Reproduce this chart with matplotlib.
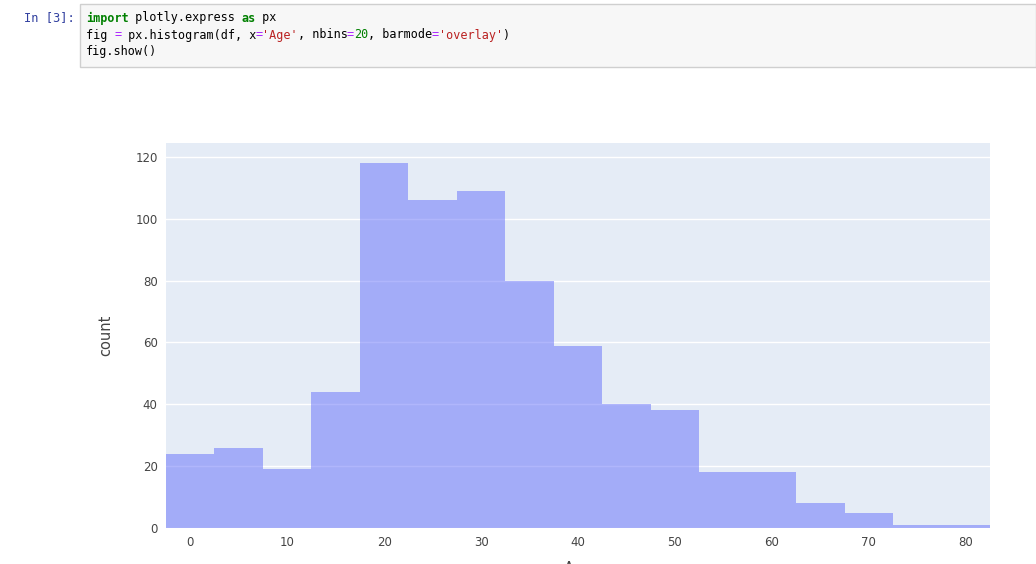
import matplotlib
matplotlib.use("Agg")
import matplotlib.pyplot as plt
from matplotlib.patches import Rectangle

bin_centers = [0, 5, 10, 15, 20, 25, 30, 35, 40, 45, 50, 55, 60, 65, 70, 75, 80]
counts = [24, 26, 19, 44, 118, 106, 109, 80, 59, 40, 38, 18, 18, 8, 5, 1, 1]
x_ticks = [0, 10, 20, 30, 40, 50, 60, 70, 80]
y_ticks = [0, 20, 40, 60, 80, 100, 120]

W, H = 1036, 564
fig = plt.figure(figsize=(W/100, H/100), dpi=100)
fig.patch.set_facecolor("white")

# code cell
fig.patches.append(Rectangle((80/W, 1-67/H), (W-80)/W, 63/H, transform=fig.transFigure,
                             facecolor="#f7f7f7", edgecolor="#cfcfcf", lw=1))
fig.text(75/W, 1-18/H, "In [3]:", color="#303f9f", family="DejaVu Sans Mono",
         fontsize=8.64, ha="right", va="center")
lines = [
    [("import", "#008000", "bold"), (" plotly.express ", "#000000", "normal"), ("as", "#008000", "bold"), (" px", "#000000", "normal")],
    [("fig ", "#000", "normal"), ("=", "#aa22ff", "normal"), (" px.histogram(df, x", "#000", "normal"), ("=", "#aa22ff", "normal"),
     ("'Age'", "#ba2121", "normal"), (", nbins", "#000", "normal"), ("=", "#aa22ff", "normal"), ("20", "#008000", "normal"),
     (", barmode", "#000", "normal"), ("=", "#aa22ff", "normal"), ("'overlay'", "#ba2121", "normal"), (")", "#000", "normal")],
    [("fig.show()", "#000", "normal")],
]
cw = 7.05
for i, segs in enumerate(lines):
    x = 86
    y = 18 + 17*i
    for s, c, wgt in segs:
        fig.text(x/W, 1-y/H, s, color=c, weight=wgt, family="DejaVu Sans Mono",
                 fontsize=8.5, ha="left", va="center")
        x += cw*len(s)

ax = fig.add_axes([166/W, (H-528)/H, 824/W, 385/H])
ax.set_facecolor("#e5ecf6")
ax.bar(bin_centers, counts, width=5, color="#636efa", alpha=0.5, linewidth=0, zorder=2)
ax.set_xlim(-2.5, 82.5)
ax.set_ylim(0, 124.5)
ax.set_xticks(x_ticks)
ax.set_yticks(y_ticks)
ax.grid(axis="y", color="white", lw=1, zorder=0)
ax.set_axisbelow(True)
for s in ax.spines.values():
    s.set_visible(False)
ax.tick_params(length=0, labelsize=8.5, colors="#444444", pad=6)
ax.set_ylabel("count", fontsize=10.5, color="#444444", labelpad=16)
fig.text(578/W, -5/H, "Age", fontsize=10.5, color="#444444", ha="center", va="center")
fig.savefig("out.png", dpi=100)
